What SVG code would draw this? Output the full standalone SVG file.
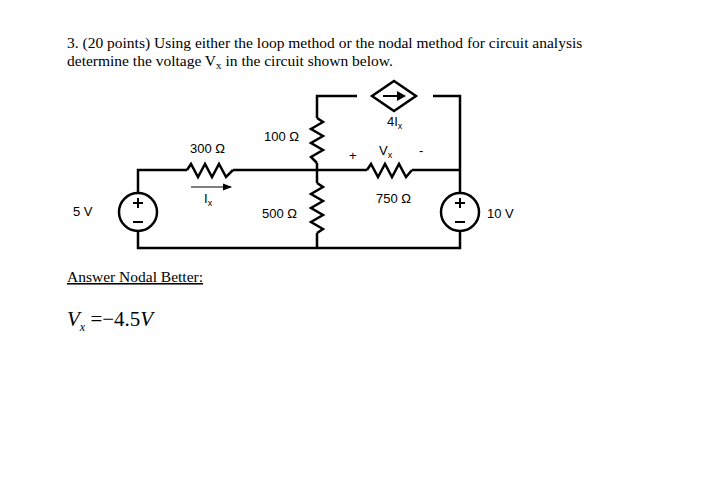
<svg xmlns="http://www.w3.org/2000/svg" width="718" height="477" viewBox="0 0 718 477">
<style>
.w{stroke:#000;stroke-width:2.5;fill:none}
.s{font-family:"Liberation Sans",Arial,sans-serif;font-size:13px;fill:#000}
.t{font-family:"Liberation Serif","Times New Roman",serif;font-size:15.5px;fill:#000}
</style>
<defs><marker id="ah" markerWidth="8" markerHeight="6" refX="7" refY="3" orient="auto"><path d="M0,0 L8,3 L0,6 Z" fill="#000"/></marker></defs>
<rect width="718" height="477" fill="#fff"/>
<text class="t" x="67" y="48">3. (20 points)  Using either the loop method or the nodal method for circuit analysis</text>
<text class="t" x="67" y="66">determine the voltage V<tspan font-size="11" dy="3">x</tspan><tspan dy="-3"> in the circuit shown below.</tspan></text>
<g id="connectors">
<path class="w" d="M138,193 V170 H187 M233,170 H367 M412,170 H460 V193 M138,231 V248 H460 V231 M317,170 V163 M317,118 V96 H357 M433,96 H460 V170 M317,170 V183 M317,233 V248"/>
<line x1="191" y1="187" x2="231" y2="187" stroke="#000" stroke-width="1.2" marker-end="url(#ah)"/>
</g>
<g id="r300"><path class="w" d="M187,170 L191,164 L198,177 L205,164 L212,177 L219,164 L226,177 L233,170" stroke-width="2"/></g>
<g id="r750"><path class="w" d="M367,170 L371,164 L378,177 L385,164 L392,177 L399,164 L406,177 L412,170"/></g>
<g id="r100"><path class="w" d="M317,118 L323,122 L311,129 L323,136 L311,143 L323,150 L311,157 L317,163"/></g>
<g id="r500"><path class="w" d="M317,183 L323,187 L311,194 L323,201 L311,208 L323,215 L311,222 L323,229 L317,233"/></g>
<g id="src5"><circle class="w" cx="138" cy="212" r="19"/><path d="M133,203 H143 M138,198 V208 M133,222 H143" stroke="#000" stroke-width="2"/></g>
<g id="src10"><circle class="w" cx="460" cy="212" r="19"/><path d="M455,203 H465 M460,198 V208 M455,222 H465" stroke="#000" stroke-width="2"/></g>
<g id="dep"><path d="M372,96 L394,81 L416,96 L394,111 Z" class="w" stroke-width="1.8"/><path d="M383,96 H398" stroke="#000" stroke-width="2"/><path d="M397,91 L406,96 L397,101 Z" fill="#000"/></g>
<g id="labels">
<text class="s" x="190" y="153">300 Ω</text>
<text class="s" x="264" y="141">100 Ω</text>
<text class="s" x="262" y="218">500 Ω</text>
<text class="s" x="376" y="203">750 Ω</text>
<text class="s" x="73" y="216">5 V</text>
<text class="s" x="487" y="218">10 V</text>
<text class="s" x="387" y="126">4I<tspan font-size="9" dy="3">x</tspan></text>
<text class="s" x="204" y="203">I<tspan font-size="9" dy="3">x</tspan></text>
<text class="s" x="379" y="155">V<tspan font-size="9" dy="3">x</tspan></text>
<text class="s" x="349" y="160" font-size="16">+</text>
<text class="s" x="419" y="155" font-size="14">-</text>
</g>
<text class="t" x="67" y="282" text-decoration="underline">Answer Nodal Better:</text>
<text x="67" y="326" font-family="Liberation Serif,serif" font-size="21" font-style="italic">V<tspan font-size="12" dy="5">x</tspan><tspan dy="-5" font-style="normal"> =−4.5</tspan>V</text>
</svg>
